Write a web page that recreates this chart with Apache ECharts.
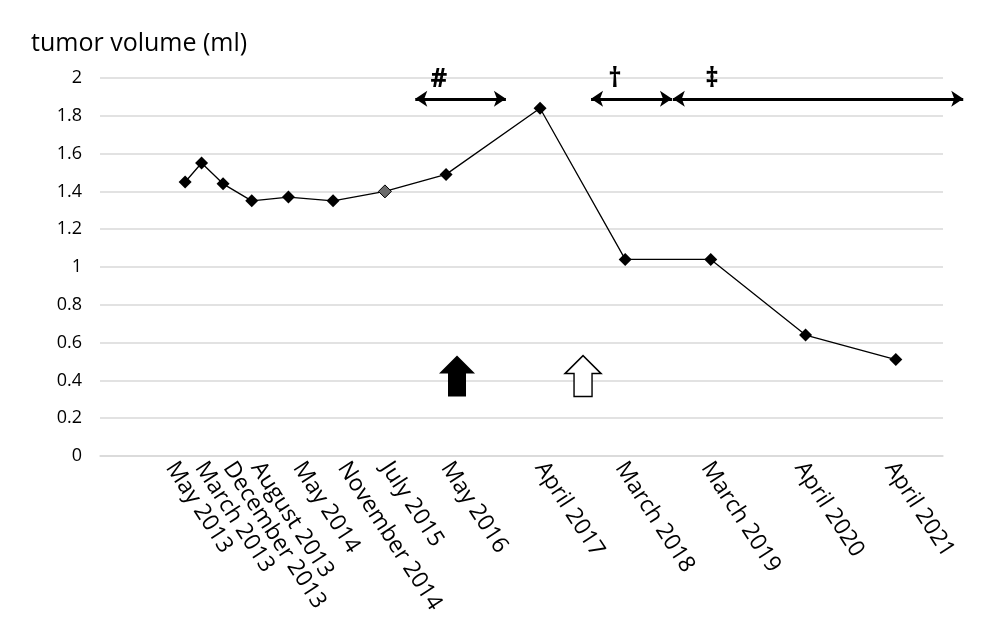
<!DOCTYPE html>
<html>
<head>
<meta charset="utf-8">
<script src="https://cdn.jsdelivr.net/npm/echarts@6/dist/echarts.min.js"></script>
<style>
  html, body { margin: 0; padding: 0; background: #fff; }
  #chart { width: 986px; height: 640px; }
</style>
</head>
<body>
<div id="chart"></div>
<script>
// examination dates (as printed) and where they sit on the x axis
var dateLabels = ['May 2013', 'March 2013', 'December 2013', 'August 2013', 'May 2014',
    'November 2014', 'July 2015', 'May 2016', 'April 2017', 'March 2018',
    'March 2019', 'April 2020', 'April 2021'];
var labelValues = [8.4, 11.85, 15.2, 18.5, 23.5, 28.8, 33.9, 41.05, 52.2, 61.7, 71.9, 83.0, 93.7];
var xValues = [10.1, 12.05, 14.6, 18.0, 22.35, 27.65, 33.8, 41.05, 52.2, 62.3, 72.45, 83.7, 94.4];
var volumes = [1.45, 1.55, 1.44, 1.35, 1.37, 1.35, 1.40, 1.49, 1.84, 1.04, 1.04, 0.64, 0.51];

// treatment periods: [start, end] on the x axis
var periodSigns = ['#', '\u2020', '\u2021'];
var periodSpans = [[37.4, 48.15], [58.25, 67.85], [67.95, 102.4]];
var periodSignX = [40.2, 61.1, 72.6];
var periodLevel = 1.89;
var signLevel = 1.99;

// event arrows (filled / hollow)
var eventX = [42.35, 57.3];
var eventLevel = 0.423;

var font = 'Open Sans';
var gray = '#d9d9d9';

var points = xValues.map(function (x, i) {
    var item = { value: [x, volumes[i]] };
    if (i === 6) item.itemStyle = { color: '#6b6b6b', borderColor: '#000', borderWidth: 1 };
    return item;
});

var upArrow = 'path://M18,0 L36,18 L27,18 L27,41 L9,41 L9,18 L0,18 Z';

var option = {
    animation: false,
    title: {
        text: 'tumor volume (ml)',
        left: 26,
        top: 26,
        textStyle: { fontFamily: font, fontSize: 25, fontWeight: 'normal', color: '#000' }
    },
    grid: { left: 100, right: 43, top: 78, bottom: 184 },
    xAxis: {
        type: 'value',
        min: 0,
        max: 100,
        splitLine: { show: false },
        axisTick: { show: false },
        axisLine: { lineStyle: { color: gray, width: 1.5 } },
        axisLabel: {
            customValues: labelValues,
            hideOverlap: false,
            showMinLabel: true,
            showMaxLabel: true,
            rotate: -57,
            margin: 8,
            fontFamily: font,
            fontSize: 23,
            color: '#000',
            formatter: function (v) {
                var i = labelValues.indexOf(v);
                return i >= 0 ? dateLabels[i] : '';
            }
        }
    },
    yAxis: {
        type: 'value',
        min: 0,
        max: 2,
        interval: 0.2,
        axisLine: { show: false },
        axisTick: { show: false },
        splitLine: { lineStyle: { color: gray, width: 1.5 } },
        axisLabel: { fontFamily: font, fontSize: 18, color: '#000', margin: 18 }
    },
    series: [
        {
            type: 'line',
            data: points,
            symbol: 'diamond',
            symbolSize: 13,
            lineStyle: { color: '#000', width: 1.3 },
            itemStyle: { color: '#000' }
        },
        {
            type: 'lines',
            coordinateSystem: 'cartesian2d',
            clip: false,
            symbol: ['arrow', 'arrow'],
            symbolSize: 12,
            lineStyle: { color: '#000', width: 3, opacity: 1 },
            data: periodSpans.map(function (s) {
                return { coords: [[s[0], periodLevel], [s[1], periodLevel]] };
            })
        },
        {
            type: 'scatter',
            symbolSize: 0,
            clip: false,
            itemStyle: { opacity: 1, color: '#000' },
            label: {
                show: true,
                position: 'inside',
                fontFamily: font,
                fontSize: 26,
                fontWeight: 'bold',
                color: '#000',
                opacity: 1,
                formatter: function (p) { return periodSigns[p.dataIndex]; }
            },
            data: periodSignX.map(function (x) { return [x, signLevel]; })
        },
        {
            type: 'scatter',
            symbol: upArrow,
            symbolSize: [36, 41],
            itemStyle: { opacity: 1 },
            data: [
                { value: [eventX[0], eventLevel], itemStyle: { color: '#000' } },
                { value: [eventX[1], eventLevel], itemStyle: { color: '#fff', borderColor: '#000', borderWidth: 1.5 } }
            ]
        }
    ]
};

var myChart = echarts.init(document.getElementById('chart'));
myChart.setOption(option, true);
</script>
</body>
</html>
